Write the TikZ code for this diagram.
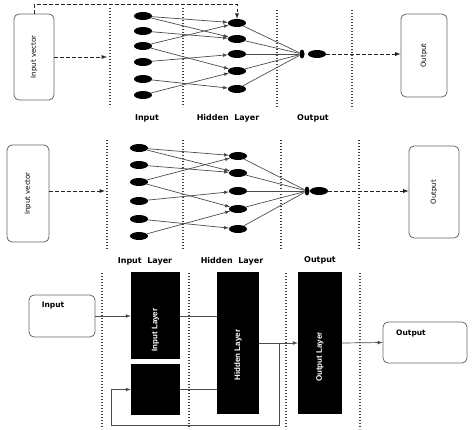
\documentclass[tikz,border=0pt]{standalone}
\usepackage{fontspec}
\setmainfont{DejaVu Sans}
\newfontfamily\narrowfont{Liberation Sans}
\usetikzlibrary{shapes.geometric}

\begin{document}
\begin{tikzpicture}[x=1pt, y=-1pt, >=latex,
    neuron/.style={ellipse, fill=black, minimum width=18pt, minimum height=8pt, inner sep=0pt},
    joint/.style={ellipse, fill=black, minimum width=5pt, minimum height=9pt, inner sep=0pt},
    link/.style={->, draw=black!70, line width=0.7pt},
    feed/.style={draw=black!70, line width=0.7pt},
    flow/.style={->, dash pattern=on 3.5pt off 2.5pt, line width=0.9pt, black!85},
    sep/.style={dash pattern=on 1.4pt off 1.6pt, line width=1.3pt, black!75},
    vbox/.style={draw=black!60, line width=0.8pt, rounded corners=5pt, inner sep=0pt},
    blk/.style={fill=black, inner sep=0pt},
    boxtxt/.style={font=\fontsize{7}{8}\selectfont, rotate=90},
    lbl/.style={font=\bfseries\fontsize{8}{9}\selectfont},
    wtxt/.style={text=white, rotate=90, font=\narrowfont\bfseries\fontsize{8}{9}\selectfont}]
    \useasboundingbox (0,0) rectangle (474,429);

    % top: feed-forward net with input fed to the hidden layer
    \draw[sep] (110,8) -- (110,107);
    \draw[sep] (183,8) -- (183,107);
    \draw[sep] (277,10) -- (277,107);
    \draw[sep] (352,10) -- (352,107);

    \node[vbox, minimum width=40pt, minimum height=86pt] (ivec1) at (34,57) {};
    \node[boxtxt] (ivec1_txt) at (ivec1) {Input vector};
    \node[vbox, minimum width=46pt, minimum height=83pt] (obox1) at (424,55.5) {};
    \node[boxtxt] (obox1_txt) at (obox1) {Output};

    \node[neuron] (i1_a) at (143,16) {};
    \node[neuron] (i1_b) at (143,31) {};
    \node[neuron] (i1_c) at (143,46) {};
    \node[neuron] (i1_d) at (143,62) {};
    \node[neuron] (i1_e) at (143,79) {};
    \node[neuron] (i1_f) at (143,95) {};

    \node[neuron] (h1_a) at (237,23) {};
    \node[neuron] (h1_b) at (237,39) {};
    \node[neuron] (h1_c) at (237,54) {};
    \node[neuron] (h1_d) at (237,71) {};
    \node[neuron] (h1_e) at (237,89) {};

    \node[joint] (j1) at (302,54) {};
    \node[neuron] (o1) at (317,54) {};

    \draw[link] (i1_a) -- (h1_a);
    \draw[link] (i1_a) -- (h1_b);
    \draw[link] (i1_b) -- (h1_b);
    \draw[link] (i1_c) -- (h1_a);
    \draw[link] (i1_c) -- (h1_d);
    \draw[link] (i1_d) -- (h1_c);
    \draw[link] (i1_e) -- (h1_e);
    \draw[link] (i1_f) -- (h1_d);

    \draw[feed] (h1_a) -- (j1);
    \draw[feed] (h1_b) -- (j1);
    \draw[feed] (h1_c) -- (j1);
    \draw[feed] (h1_d) -- (j1);
    \draw[feed] (h1_e) -- (j1);

    \coordinate (in1_end) at (107,57);
    \draw[flow] (ivec1.east) -- (in1_end);
    \draw[flow] (ivec1.north) -- ++(0,-9) -| (h1_a.north);
    \draw[flow] (o1) -- (obox1.west |- o1);

    \node[lbl] (l1_in) at (147,118) {Input};
    \node[lbl] (l1_hid) at (228,118) {Hidden\ \ Layer};
    \node[lbl] (l1_out) at (313,118) {Output};

    % middle: plain feed-forward net
    \draw[sep] (107,140) -- (107,249);
    \draw[sep] (183,140) -- (183,249);
    \draw[sep] (281,140) -- (281,249);
    \draw[sep] (359,140) -- (359,249);

    \node[vbox, minimum width=42pt, minimum height=97pt] (ivec2) at (28,193.5) {};
    \node[boxtxt] (ivec2_txt) at (ivec2) {Input vector};
    \node[vbox, minimum width=50pt, minimum height=92pt] (obox2) at (434,192) {};
    \node[boxtxt] (obox2_txt) at (obox2) {Output};

    \node[neuron] (i2_a) at (139,148) {};
    \node[neuron] (i2_b) at (139,165) {};
    \node[neuron] (i2_c) at (139,182) {};
    \node[neuron] (i2_d) at (139,201) {};
    \node[neuron] (i2_e) at (139,219) {};
    \node[neuron] (i2_f) at (139,236) {};

    \node[neuron] (h2_a) at (238,156) {};
    \node[neuron] (h2_b) at (238,173) {};
    \node[neuron] (h2_c) at (238,191) {};
    \node[neuron] (h2_d) at (238,209) {};
    \node[neuron] (h2_e) at (238,229) {};

    \node[joint] (j2) at (307,191) {};
    \node[neuron] (o2) at (319,191) {};

    \draw[link] (i2_a) -- (h2_a);
    \draw[link] (i2_a) -- (h2_b);
    \draw[link] (i2_b) -- (h2_b);
    \draw[link] (i2_c) -- (h2_a);
    \draw[link] (i2_c) -- (h2_d);
    \draw[link] (i2_d) -- (h2_c);
    \draw[link] (i2_e) -- (h2_e);
    \draw[link] (i2_f) -- (h2_d);

    \draw[feed] (h2_a) -- (j2);
    \draw[feed] (h2_b) -- (j2);
    \draw[feed] (h2_c) -- (j2);
    \draw[feed] (h2_d) -- (j2);
    \draw[feed] (h2_e) -- (j2);

    \coordinate (in2_end) at (105,191);
    \draw[flow] (ivec2.east |- in2_end) -- (in2_end);
    \draw[flow] (o2) -- (obox2.west |- o2);

    \node[lbl] (l2_in) at (145,261) {Input\ \ Layer};
    \node[lbl] (l2_hid) at (232,261) {Hidden\ \ Layer};
    \node[lbl] (l2_out) at (320,260) {Output};

    % bottom: recurrent net with context units
    \draw[sep] (102,273) -- (102,429);
    \draw[sep] (189,273) -- (189,429);
    \draw[sep] (286,273) -- (286,429);
    \draw[sep] (360,273) -- (360,429);

    \node[vbox, minimum width=66pt, minimum height=42pt] (inbox) at (62,316) {};
    \node[lbl, font=\bfseries\fontsize{7.5}{9}\selectfont] (inbox_txt) at (53,306) {Input};
    \node[vbox, minimum width=84pt, minimum height=41pt] (outbox) at (425,342.5) {};
    \node[lbl, font=\bfseries\fontsize{7.5}{9}\selectfont] (outbox_txt) at (411,333) {Output};

    \node[blk, minimum width=49pt, minimum height=87pt] (ilayer) at (155.5,315.5) {};
    \node[wtxt] (ilayer_txt) at (155.5,330) {Input Layer};
    \node[blk, minimum width=49pt, minimum height=51pt] (ctx) at (155.5,389.5) {};
    \node[blk, minimum width=42pt, minimum height=142pt] (hlayer) at (238,343) {};
    \node[wtxt] (hlayer_txt) at (238,355) {Hidden Layer};
    \node[blk, minimum width=44pt, minimum height=142pt] (olayer) at (320,343) {};
    \node[wtxt] (olayer_txt) at (320,357) {Output Layer};

    \draw[feed, ->] (inbox.east) -- (inbox.east -| ilayer.west);
    \draw[feed] (inbox.east -| ilayer.east) -- (inbox.east -| hlayer.west);
    \draw[feed] (ctx.east) -- (ctx.east -| hlayer.west);
    \draw[feed, ->] (hlayer.east) -- (olayer.west);
    \draw[feed, ->] (olayer.east) -- (outbox.west);

    \coordinate (fb) at (279,343);
    \coordinate (fb_low) at (111,425);
    \draw[feed, ->] (fb) |- (fb_low) |- (ctx.west);
\end{tikzpicture}
\end{document}
